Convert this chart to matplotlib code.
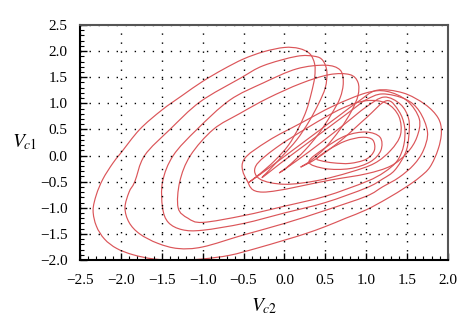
import numpy as np
import matplotlib
matplotlib.use("Agg")
import matplotlib.pyplot as plt
from matplotlib.path import Path
from matplotlib.patches import PathPatch
from matplotlib.ticker import MultipleLocator

# Points (V_c2, V_c1), one list per visible loop

# big loops: right arc -> bottom sweep -> left side -> top -> descent -> tip -> back up
loop_b1 = [
    (1.13, 1.25), (1.45, 1.2), (1.72, 0.98), (1.88, 0.72), (1.92, 0.45), (1.88, 0.12),
    (1.78, -0.22), (1.65, -0.42), (1.49, -0.6), (1.25, -0.83), (1.0, -1.04), (0.75, -1.2),
    (0.5, -1.36), (0.25, -1.5), (0.0, -1.62), (-0.35, -1.78), (-0.67, -1.91), (-1.0, -1.98),
    (-1.3, -2.0), (-1.6, -1.98), (-1.85, -1.9), (-2.05, -1.78), (-2.2, -1.6), (-2.3, -1.35),
    (-2.34, -1.05), (-2.3, -0.75), (-2.22, -0.45), (-2.1, -0.15), (-2.0, 0.05), (-1.77, 0.5),
    (-1.5, 0.87), (-1.25, 1.15), (-1.0, 1.42), (-0.75, 1.65), (-0.5, 1.85), (-0.25, 1.99),
    (0.0, 2.07), (0.18, 2.05), (0.31, 1.95), (0.37, 1.75), (0.37, 1.5), (0.33, 1.2),
    (0.27, 0.87), (0.18, 0.55), (0.05, 0.2), (-0.12, -0.1), (-0.3, -0.35), (-0.44, -0.52),
    (-0.2, -0.25), (0.1, 0.1), (0.4, 0.45), (0.7, 0.8), (0.9, 1.03), (1.13, 1.25),
]
loop_b2 = [
    (1.2, 1.18), (1.48, 1.08), (1.65, 0.85), (1.75, 0.45), (1.7, 0.1), (1.58, -0.18),
    (1.4, -0.42), (1.2, -0.6), (1.0, -0.78), (0.5, -1.05), (0.0, -1.3), (-0.5, -1.52),
    (-1.0, -1.75), (-1.3, -1.78), (-1.55, -1.68), (-1.77, -1.5), (-1.9, -1.28), (-1.95, -1.0),
    (-1.9, -0.7), (-1.83, -0.5), (-1.71, 0.0), (-1.4, 0.5), (-1.03, 1.03), (-0.54, 1.48),
    (-0.26, 1.72), (0.15, 1.9), (0.37, 1.9), (0.47, 1.82), (0.52, 1.6), (0.5, 1.3),
    (0.42, 1.0), (0.3, 0.65), (0.15, 0.3), (-0.02, 0.0), (-0.18, -0.27), (-0.27, -0.42),
    (-0.05, -0.15), (0.25, 0.2), (0.55, 0.55), (0.85, 0.9), (1.0, 1.07), (1.2, 1.18),
]
loop_b3 = [
    (1.22, 1.12), (1.42, 0.98), (1.52, 0.7), (1.52, 0.35), (1.48, 0.05), (1.35, -0.28),
    (1.2, -0.45), (1.0, -0.62), (0.5, -0.9), (0.0, -1.1), (-0.5, -1.3), (-1.0, -1.43),
    (-1.25, -1.42), (-1.42, -1.28), (-1.49, -1.0), (-1.49, -0.5), (-1.36, 0.0), (-1.07, 0.5),
    (-0.67, 1.06), (-0.26, 1.39), (0.15, 1.66), (0.5, 1.73), (0.68, 1.64), (0.72, 1.4),
    (0.68, 1.1), (0.57, 0.78), (0.42, 0.42), (0.25, 0.1), (0.05, -0.2), (-0.06, -0.33),
    (0.15, -0.1), (0.45, 0.25), (0.75, 0.62), (1.0, 0.93), (1.22, 1.12),
]
loop_b4 = [
    (1.25, 1.05), (1.4, 0.85), (1.47, 0.55), (1.46, 0.2), (1.38, -0.1), (1.22, -0.32),
    (1.0, -0.5), (0.5, -0.78), (0.0, -0.97), (-0.5, -1.15), (-1.0, -1.28), (-1.18, -1.2),
    (-1.3, -1.0), (-1.28, -0.5), (-1.15, 0.0), (-0.87, 0.5), (-0.54, 0.81), (-0.2, 1.1),
    (0.2, 1.38), (0.55, 1.55), (0.8, 1.55), (0.9, 1.4), (0.9, 1.15), (0.82, 0.85),
    (0.68, 0.5), (0.5, 0.15), (0.32, -0.1), (0.2, -0.22), (0.4, -0.05), (0.7, 0.3),
    (1.0, 0.72), (1.25, 1.05),
]

# right-hand loops without the sharp tip
loop_r1 = [
    (0.56, -0.47), (-0.26, -0.7), (-0.46, -0.47), (-0.5, -0.09), (-0.2, 0.28), (0.2, 0.62),
    (0.6, 0.95), (1.0, 1.2), (1.25, 1.23), (1.5, 1.05), (1.65, 0.7), (1.62, 0.35),
    (1.5, 0.05), (1.3, -0.2), (1.0, -0.35), (0.56, -0.47),
]
loop_r2 = [
    (-0.3, -0.45), (-0.35, -0.2), (-0.1, 0.15), (0.3, 0.55), (0.7, 0.9), (1.0, 1.05),
    (1.25, 1.0), (1.4, 0.75), (1.42, 0.4), (1.3, 0.1), (1.1, -0.15), (0.8, -0.32),
    (0.4, -0.48), (0.0, -0.55), (-0.3, -0.45),
]

# small inner loops
loop_c1 = [
    (0.4, -0.05), (0.55, 0.12), (0.75, 0.28), (0.95, 0.35), (1.08, 0.3), (1.1, 0.1),
    (1.0, -0.07), (0.8, -0.15), (0.6, -0.14), (0.45, -0.1), (0.4, -0.05),
]
loop_c2 = [
    (0.3, -0.12), (0.5, 0.15), (0.75, 0.38), (1.0, 0.45), (1.17, 0.35), (1.18, 0.1),
    (1.05, -0.12), (0.8, -0.25), (0.5, -0.25), (0.3, -0.12),
]

loops = [loop_b1, loop_b2, loop_b3, loop_b4, loop_r1, loop_r2, loop_c1, loop_c2]

x_ticks = [-2.5, -2.0, -1.5, -1.0, -0.5, 0.0, 0.5, 1.0, 1.5, 2.0]
y_ticks = [-2.0, -1.5, -1.0, -0.5, 0.0, 0.5, 1.0, 1.5, 2.0, 2.5]


def smooth_path(pts):
    # Catmull-Rom through the read points, drawn as cubic Bezier pieces
    pts = np.asarray(pts, dtype=float)
    closed = np.allclose(pts[0], pts[-1])
    if closed:
        pts = pts[:-1]
    n = len(pts)
    verts = [pts[0]]
    codes = [Path.MOVETO]
    last = n if closed else n - 1
    for i in range(last):
        if closed:
            p0, p1, p2, p3 = pts[(i - 1) % n], pts[i], pts[(i + 1) % n], pts[(i + 2) % n]
        else:
            p0 = pts[max(i - 1, 0)]
            p1, p2 = pts[i], pts[i + 1]
            p3 = pts[min(i + 2, n - 1)]
        verts += [p1 + (p2 - p0) / 6.0, p2 - (p3 - p1) / 6.0, p2]
        codes += [Path.CURVE4] * 3
    return Path(verts, codes)


plt.rcParams['font.family'] = ['Liberation Serif', 'DejaVu Serif']
plt.rcParams['mathtext.fontset'] = 'stix'

fig = plt.figure(figsize=(4.74, 3.32), dpi=100)
ax = fig.add_axes([0.1688, 0.2169, 0.7762, 0.7078])

for lp in loops:
    ax.add_patch(PathPatch(smooth_path(lp), facecolor='none', edgecolor='#db5559',
                           lw=0.85, joinstyle='round'))

ax.set_xlim(-2.5, 2.0)
ax.set_ylim(-2.0, 2.5)
ax.set_xticks(x_ticks)
ax.set_yticks(y_ticks)
ax.set_xticklabels([f"{v:.1f}".replace('-', '\u2212') for v in x_ticks])
ax.set_yticklabels([f"{v:.1f}".replace('-', '\u2212') for v in y_ticks])
ax.xaxis.set_minor_locator(MultipleLocator(0.1))
ax.yaxis.set_minor_locator(MultipleLocator(0.1))
ax.tick_params(which='both', direction='in', top=False, right=False, colors='black')
ax.tick_params(which='major', length=5, width=1.0, labelsize=11)
ax.tick_params(axis='x', which='major', pad=10)
ax.tick_params(axis='y', which='major', pad=9)
ax.tick_params(which='minor', length=3, width=0.8)

ax.grid(True, which='major', color='black', linestyle=(0, (1, 5.5)), lw=1.0)

for side in ['left', 'bottom']:
    ax.spines[side].set_linewidth(1.5)
    ax.spines[side].set_color('black')
for side in ['top', 'right']:
    ax.spines[side].set_linewidth(1.5)
    ax.spines[side].set_color('#555555')

ax.set_xlabel(r'$V_{c2}$', fontsize=14, labelpad=7)
ax.set_ylabel(r'$V_{c1}$', fontsize=14, rotation=0, labelpad=11, va='center')

fig.savefig('out.png', dpi=100)
